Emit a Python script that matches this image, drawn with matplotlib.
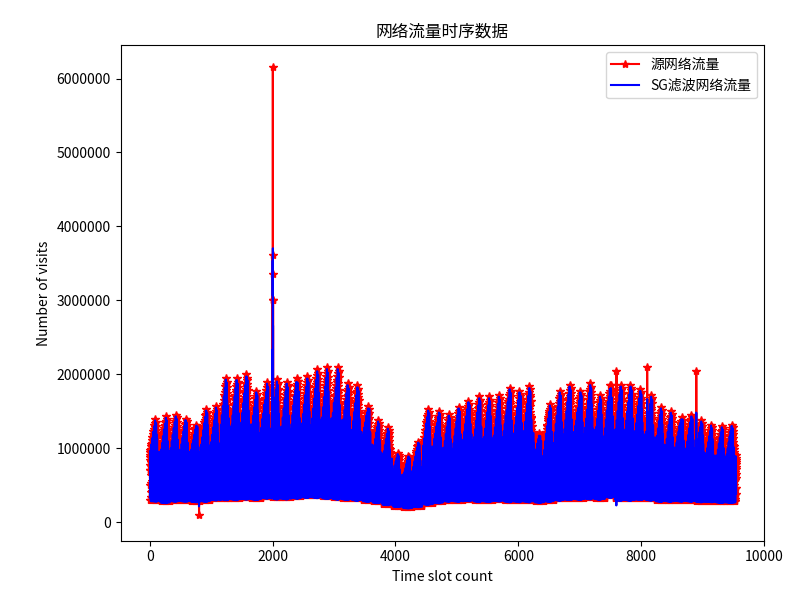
import numpy as np
import matplotlib
matplotlib.use('Agg')
import matplotlib.pyplot as plt
from matplotlib import font_manager
from matplotlib.ticker import ScalarFormatter

cjk = sorted({f.name for f in font_manager.fontManager.ttflist if 'CJK' in f.name})
pick = 'Noto Sans CJK SC' if 'Noto Sans CJK SC' in cjk else (cjk[0] if cjk else 'DejaVu Sans')
plt.rcParams['font.family'] = pick
plt.rcParams['axes.unicode_minus'] = False

# half-day peak levels (millions)
peaks = [1.39, 1.43, 1.45, 1.40, 1.32, 1.53, 1.57, 1.95, 1.95, 2.00, 1.78, 1.90,
         1.93, 1.90, 1.95, 1.97, 2.07, 2.10, 2.10, 1.88, 1.85, 1.57, 1.38, 1.28,
         0.93, 0.90, 1.09, 1.53, 1.50, 1.46, 1.56, 1.64, 1.70, 1.70, 1.72, 1.82,
         1.78, 1.84, 1.20, 1.60, 1.78, 1.86, 1.78, 1.88, 1.72, 1.85, 1.86, 1.86,
         1.80, 1.72, 1.56, 1.50, 1.42, 1.45, 1.38, 1.32, 1.30, 1.32]
troughs = [0.30, 0.28, 0.30, 0.30, 0.29, 0.30, 0.32, 0.33, 0.33, 0.34, 0.33, 0.35,
           0.34, 0.34, 0.35, 0.36, 0.36, 0.35, 0.34, 0.33, 0.32, 0.30, 0.28, 0.25,
           0.22, 0.20, 0.22, 0.26, 0.28, 0.30, 0.30, 0.31, 0.30, 0.30, 0.31, 0.30,
           0.30, 0.30, 0.28, 0.30, 0.32, 0.33, 0.33, 0.34, 0.33, 0.36, 0.32, 0.32,
           0.33, 0.32, 0.30, 0.30, 0.30, 0.30, 0.29, 0.29, 0.28, 0.28]
# fast oscillation shape (fraction of peak-trough range)
shape = [0.0, 0.3, 0.6, 0.85, 1.0, 0.95, 0.8, 0.6, 0.7, 0.9, 0.75, 0.5,
         0.3, 0.15, 0.05, 0.0]
# slow profile across one segment (saw-tooth of each daily peak)
profile = [0.62, 0.70, 0.78, 0.86, 0.93, 1.0, 0.97, 0.72, 0.55, 0.6]
n_slots = 9550
# burst around slot 2000
spike_x = [1998, 2000, 2002, 2004, 2006]
spike_y = [3.0, 3.62, 6.15, 3.35, 3.0]
# isolated excursions
extra_x = [800, 7600, 8100, 8900]
extra_y = [0.10, 2.05, 2.10, 2.05]

seg = n_slots / len(peaks)
x = np.arange(n_slots)
y = np.empty(n_slots)
for k in range(n_slots):
    i = min(int(k // seg), len(peaks) - 1)
    p = profile[min(int((k - i * seg) / seg * len(profile)), len(profile) - 1)]
    w = shape[k % len(shape)]
    y[k] = troughs[i] + (peaks[i] - troughs[i]) * w * p
for sx, sv in zip(spike_x, spike_y):
    y[sx] = sv
for sx, sv in zip(extra_x, extra_y):
    y[sx] = sv
y = y * 1e6

# Savitzky-Golay filter (window 5, order 3)
win, order = 5, 3
half = win // 2
A = np.vander(np.arange(-half, half + 1), order + 1, increasing=True)
coef = np.linalg.pinv(A)[0]
ypad = np.concatenate([np.full(half, y[0]), y, np.full(half, y[-1])])
y_sg = np.convolve(ypad, coef[::-1], mode='valid')

fig = plt.figure(figsize=(8.04, 6.04), dpi=100)
ax = fig.add_axes([0.15, 0.105, 0.80, 0.82])
ax.plot(x, y, 'r-*', markersize=6, linewidth=1.5, label='源网络流量')
ax.plot(x, y_sg, 'b-', linewidth=1.5, label='SG滤波网络流量')
ax.set_xlim(-478, 10000)
ax.set_ylim(-2.5e5, 6.45e6)
ax.set_xticks([0, 2000, 4000, 6000, 8000, 10000])
ax.set_yticks(np.arange(0, 6000001, 1000000))
fmt = ScalarFormatter(useOffset=False)
fmt.set_scientific(False)
ax.yaxis.set_major_formatter(fmt)
ax.set_title('网络流量时序数据', fontsize=12)
ax.set_xlabel('Time slot count', fontsize=10)
ax.set_ylabel('Number of visits', fontsize=10)
ax.legend(loc='upper right', fontsize=10)
fig.savefig('out.png', dpi=100)
